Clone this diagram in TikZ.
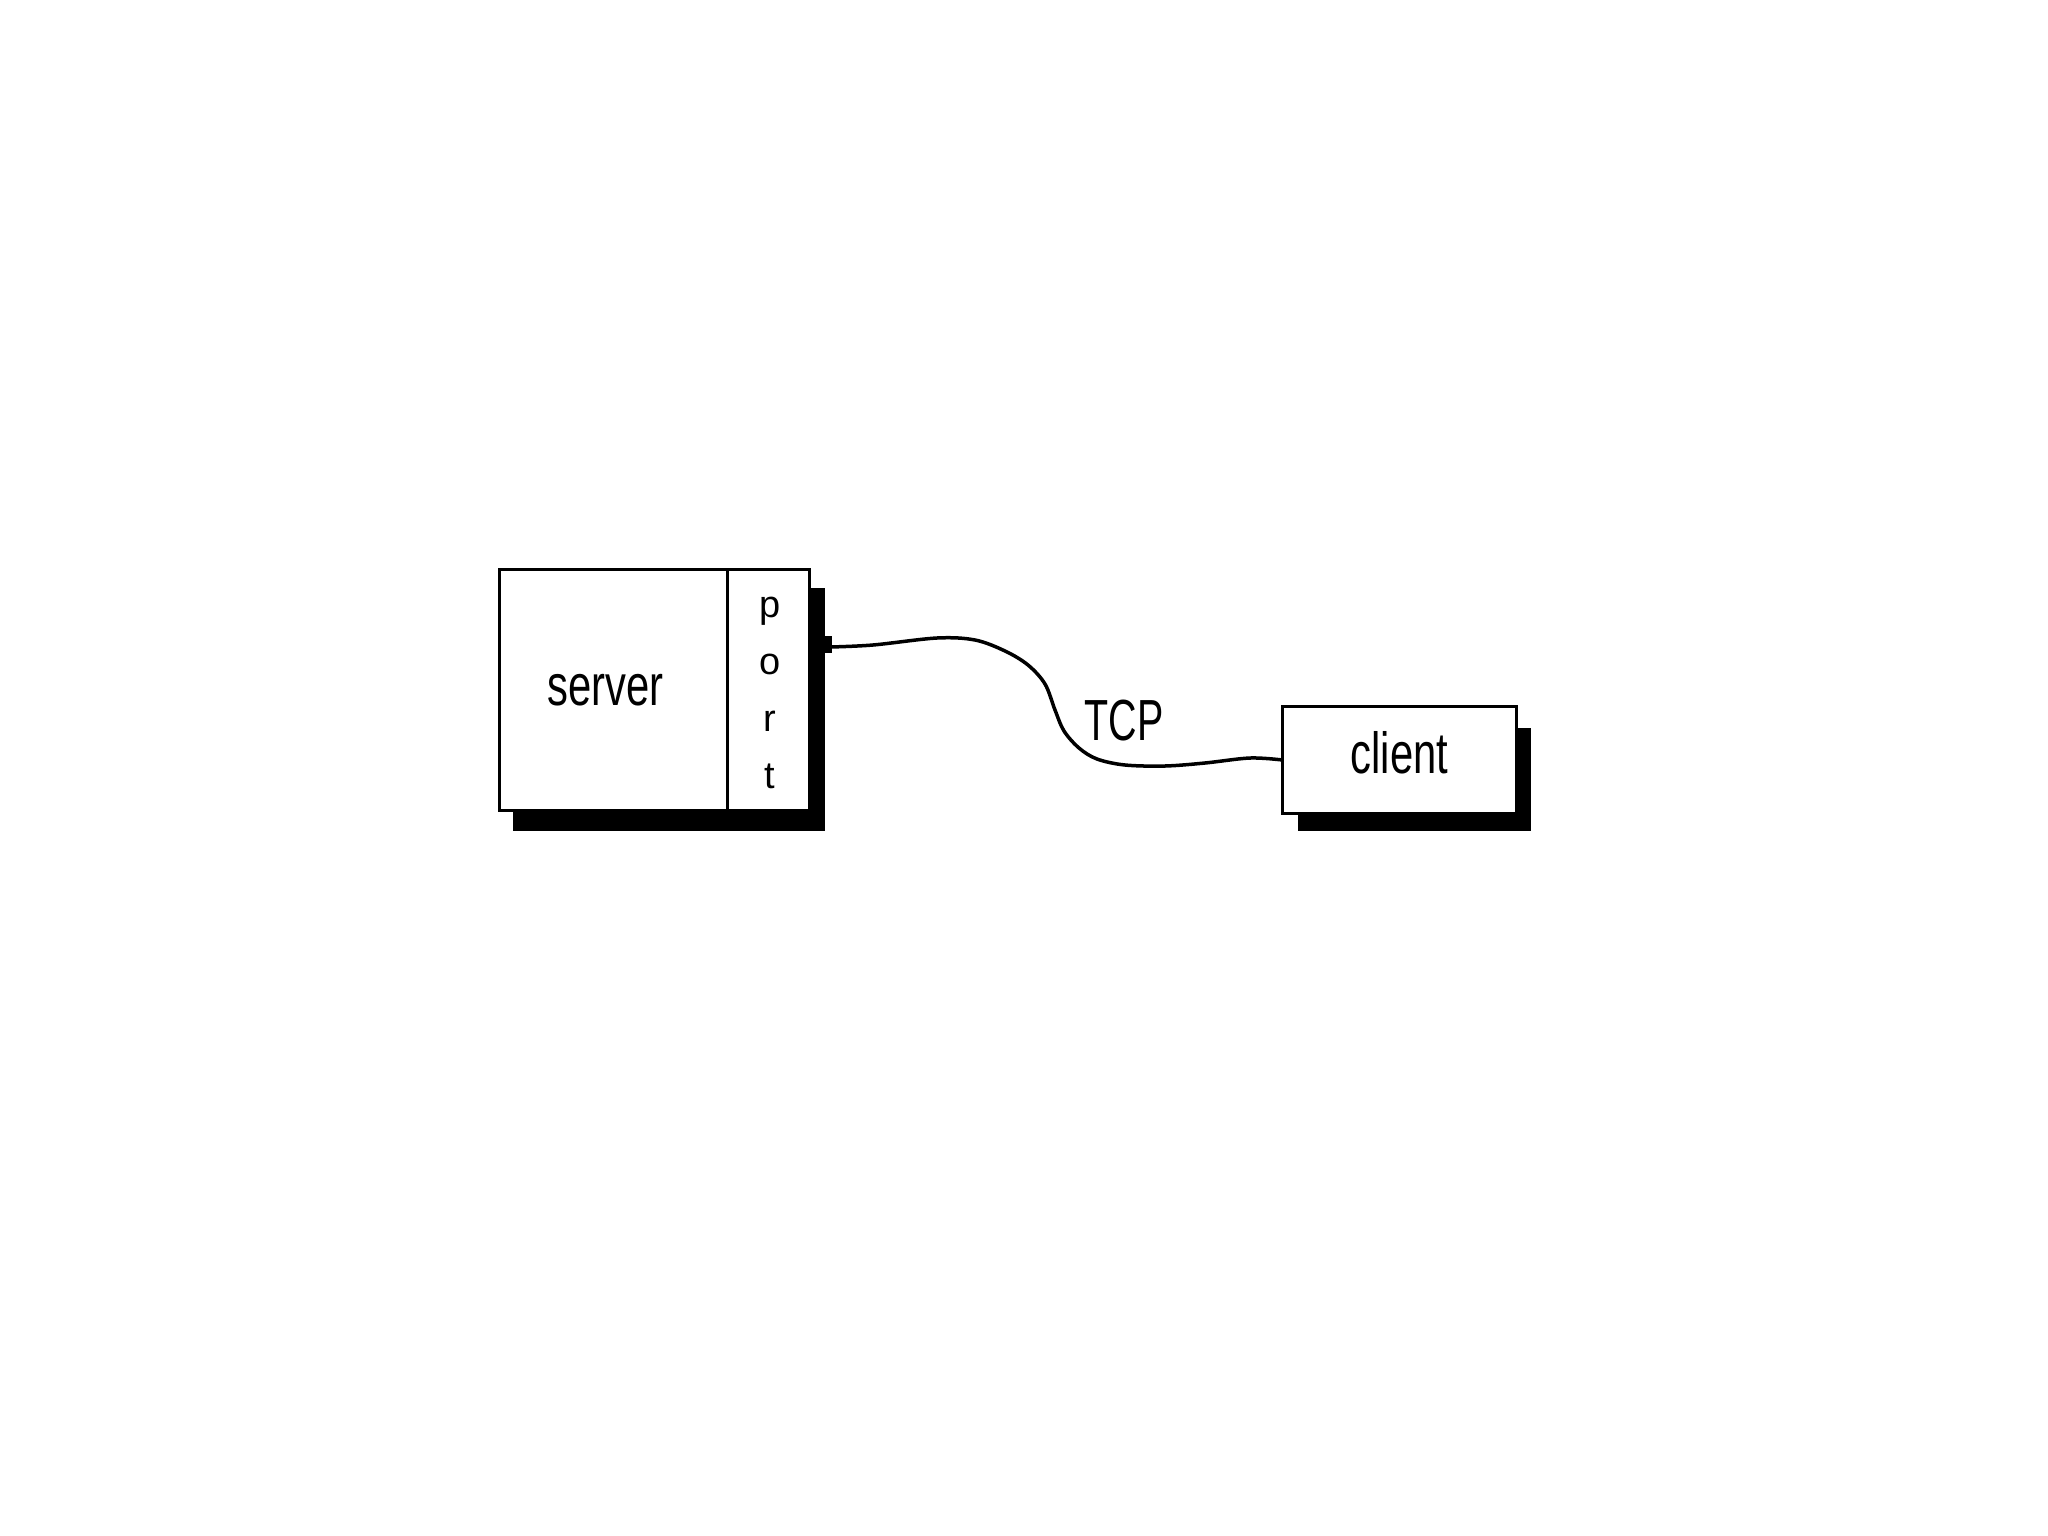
\documentclass[tikz,border=0pt]{standalone}
\usepackage{fontspec}
\setmainfont{Liberation Sans}
\usetikzlibrary{backgrounds}
\begin{document}
\begin{tikzpicture}[x=1pt,y=-1pt,
  box/.style={draw=black, line width=3pt, fill=white, inner sep=0pt, outer sep=0pt},
  shade/.style={fill=black},
  lbl/.style={font=\fontsize{58}{58}\selectfont, inner sep=0pt},
  portlbl/.style={font=\fontsize{38}{57}\selectfont, inner sep=0pt, align=center},
  wire/.style={line width=3.5pt, line join=round, line cap=butt}]
\useasboundingbox (0,0) rectangle (2048,1536);

% server box with its port column
\node[box, lbl, minimum width=227.5pt, minimum height=241pt, text height=30pt, text depth=0pt]
  (srv) at (613.25,690) {\hspace*{-16pt}\scalebox{0.72}[1]{server}};
\node[box, minimum width=82.5pt, minimum height=241pt] (port) at (768.25,690) {};
\node[portlbl] (portlabel) at (770,693) {p\\o\\r\\t};

% client box
\node[box, lbl, minimum width=234pt, minimum height=107pt, text height=42pt, text depth=16pt]
  (client) at (1399.5,760) {\scalebox{0.72}[1]{client}};

% shadows
\begin{scope}[on background layer]
  \fill[shade] ([shift={(13,18)}]srv.north west) rectangle ([shift={(15,20)}]port.south east);
  \fill[shade] ([shift={(15,21)}]client.north west) rectangle ([shift={(14,17)}]client.south east);
\end{scope}

% TCP connector
\coordinate (tcpstart) at (830,647);
\fill[shade] ([shift={(-8,-11)}]tcpstart) rectangle ([shift={(2,6)}]tcpstart);
\draw[wire] plot[smooth, tension=0.55] coordinates {(tcpstart) (873,645) (937,638) (975,640) (1005,651) (1028,665) (1045,684) (1055,710) (1064,731) (1079,748) (1097,759) (1125,765) (1165,766) (1205,763) (1250,758) (client.west)};
\node[lbl, anchor=base] (tcp) at (1124,740) {\scalebox{0.68}[1]{TCP}};
\end{tikzpicture}
\end{document}
